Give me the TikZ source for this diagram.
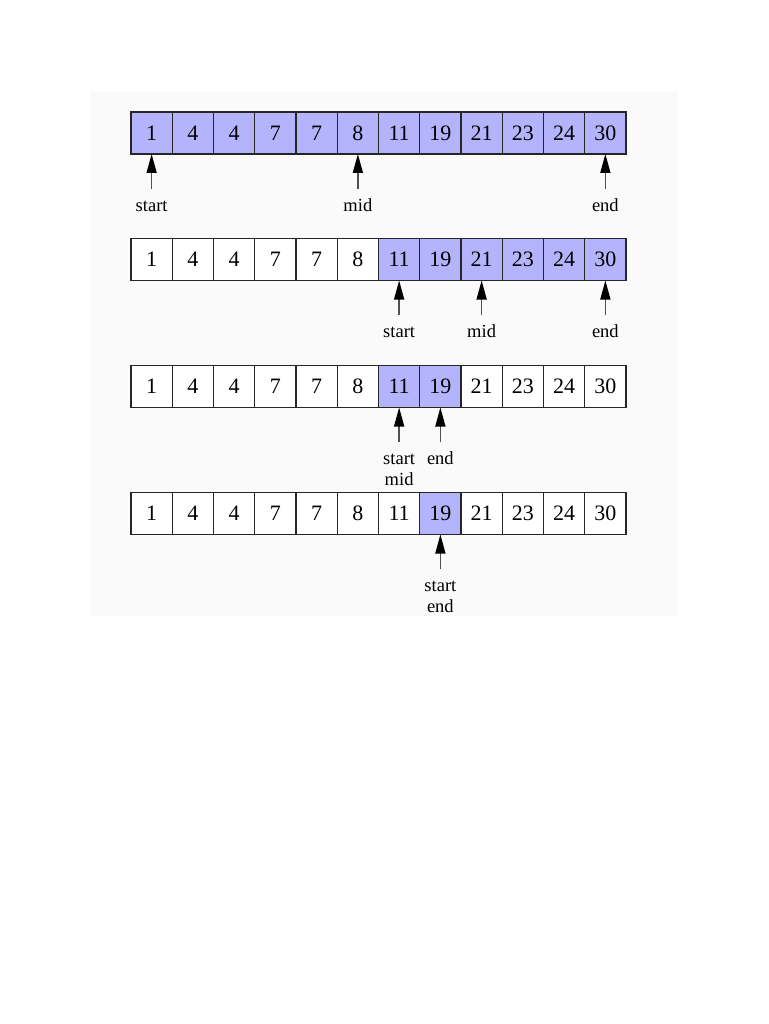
\documentclass[tikz,border=0pt]{standalone}
\usepackage{fontspec}
\setmainfont{Liberation Serif}
\usetikzlibrary{arrows.meta,positioning}

\definecolor{hifill}{RGB}{180,180,252}
\definecolor{bgpanel}{RGB}{250,250,250}
\definecolor{shaftgray}{RGB}{80,80,80}

\begin{document}
\begin{tikzpicture}[x=1pt,y=1pt,node distance=0pt]

\tikzset{cell/.style={draw=black!85,line width=1.4pt,fill=#1,minimum width=41.25pt,
    minimum height=42pt,inner sep=0pt,outer sep=0pt,font=\fontsize{22}{26}\selectfont}}
\tikzset{ptrlabel/.style={anchor=north,inner sep=0pt,align=center,
    font=\fontsize{18.5}{21}\selectfont}}
\tikzset{ptr/.style={-{Triangle[length=19pt,width=10pt,color=black]},draw=shaftgray,
    line width=1.5pt,shorten <=7.6pt}}

\useasboundingbox (0,0) rectangle (768,-1024);
\fill[bgpanel] (90,-92) rectangle (678,-616);

% one row per search step: row/first/last highlighted cell/centre y
\foreach \r/\lo/\hi/\yc in {1/1/12/133,2/7/12/259.5,3/7/8/386.5,4/8/8/513.5}{
  \foreach \c/\v in {1/1,2/4,3/4,4/7,5/7,6/8,7/11,8/19,9/21,10/23,11/24,12/30}{
    \ifnum\c<\lo \def\cellfill{white}\else
      \ifnum\c>\hi \def\cellfill{white}\else \def\cellfill{hifill}\fi\fi
    \ifnum\c=1
      \node[cell=\cellfill] (r\r c\c) at (151.625,-\yc) {\v};
    \else
      \pgfmathtruncatemacro{\prev}{\c-1}
      \node[cell=\cellfill] (r\r c\c) [right=of r\r c\prev] {\v};
    \fi
  }
}

% pointers under the cells
\foreach \r/\c/\txt in {1/1/start,1/6/mid,1/12/end,
                        2/7/start,2/9/mid,2/12/end,
                        3/7/{start\\mid},3/8/end,
                        4/8/{start\\end}}{
  \node[ptrlabel] (p\r c\c) at ([yshift=-42.3pt]r\r c\c.south) {\strut\txt};
  \draw[ptr] (p\r c\c) -- (r\r c\c);
}

\end{tikzpicture}
\end{document}
